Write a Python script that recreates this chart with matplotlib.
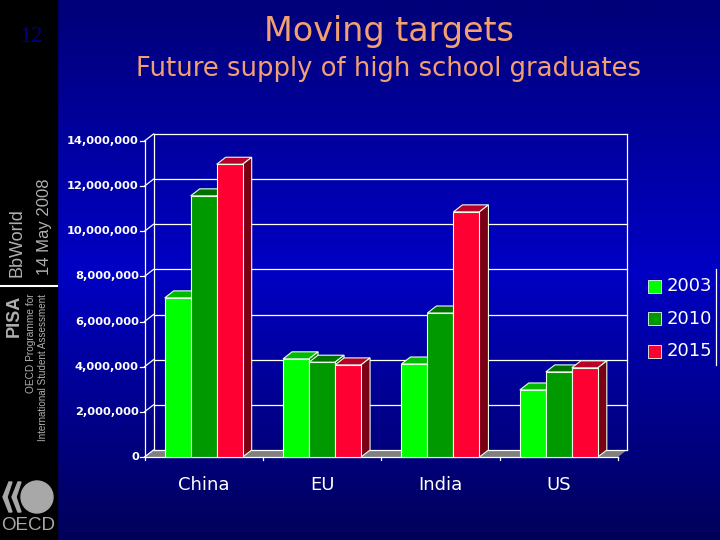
import numpy as np
import matplotlib
matplotlib.use("Agg")
import matplotlib.pyplot as plt
from matplotlib.colors import LinearSegmentedColormap
from matplotlib.patches import Polygon, Circle, Rectangle

categories = ["China", "EU", "India", "US"]
years = ["2003", "2010", "2015"]
v2003 = [7050000, 4350000, 4120000, 2970000]
v2010 = [11570000, 4200000, 6380000, 3770000]
v2015 = [12970000, 4080000, 10860000, 3950000]
series = [v2003, v2010, v2015]
front = ["#00FF00", "#009900", "#FF0033"]
top = ["#00BB00", "#007000", "#B80028"]
side = ["#008800", "#005000", "#7A0014"]
yticks = list(range(0, 14000001, 2000000))

W, H = 720, 540
fig = plt.figure(figsize=(W / 100, H / 100), dpi=100)

# background, in pixel coordinates
bg = fig.add_axes([0, 0, 1, 1])
bg.set_xlim(0, W); bg.set_ylim(H, 0); bg.axis("off")
cmap = LinearSegmentedColormap.from_list("b", [(0, "#000078"), (0.5, "#0000C4"), (1, "#00005A")])
bg.imshow(np.linspace(0, 1, 256).reshape(-1, 1), cmap=cmap, aspect="auto", extent=(0, W, H, 0))
bg.add_patch(Rectangle((0, 0), 57, H, color="black"))
bg.plot([0, 57], [286, 286], color="white", lw=1.5)
bg.text(32, 37, "12", color="#000080", fontsize=17, family="Liberation Serif", ha="center", va="center")
bg.text(389, 31, "Moving targets", color="#F2A070", fontsize=24, family="DejaVu Sans", ha="center", va="center")
bg.text(389, 69, "Future supply of high school graduates", color="#F2A070", fontsize=18.6, family="DejaVu Sans", ha="center", va="center")
grey = "#B0B0B0"
bg.text(17, 243, "BbWorld", color=grey, fontsize=13, family="Liberation Sans", rotation=90, ha="center", va="center")
bg.text(44, 227, "14 May 2008", color=grey, fontsize=12, family="Liberation Sans", rotation=90, ha="center", va="center")
bg.text(14, 316, "PISA", color=grey, fontsize=13, family="Liberation Sans", weight="bold", rotation=90, ha="center", va="center")
bg.text(31, 343, "OECD Programme for", color=grey, fontsize=7.3, family="Liberation Sans", rotation=90, ha="center", va="center")
bg.text(43, 368, "International Student Assessment", color=grey, fontsize=7.1, family="Liberation Sans", rotation=90, ha="center", va="center")
bg.add_patch(Circle((37, 497), 16, color="#A8A8A8"))
for xc in (3, 12):
    bg.add_patch(Polygon([(xc + 6, 482), (xc + 9, 482), (xc + 4, 497), (xc + 9, 512), (xc + 6, 512), (xc, 497)], color="#A8A8A8"))
bg.text(28, 525, "OECD", color="#A8A8A8", fontsize=13.5, family="Liberation Sans", ha="center", va="center")

# chart
x0, x1, y0, y1 = 144.5, 618.0, 457.0, 141.0
ax = fig.add_axes([x0 / W, 1 - y0 / H, (x1 - x0) / W, (y0 - y1) / H])
ax.patch.set_alpha(0)
ax.set_xlim(0, 4)
ax.set_ylim(0, 14000000)
for s in ax.spines.values():
    s.set_visible(False)
ax.set_xticks([])
ax.set_yticks([])
dx = 9 / ((x1 - x0) / 4)
dy = 7 / ((y0 - y1) / 14000000)
white = dict(color="white", lw=0.9, clip_on=False)
# floor, walls, gridlines
ax.add_patch(Polygon([(0, 0), (4, 0), (4 + dx, dy), (dx, dy)], facecolor="#808080", edgecolor="none", clip_on=False))
ax.plot([dx, dx], [dy, 14000000 + dy], **white)
ax.plot([4 + dx, 4 + dx], [dy, 14000000 + dy], **white)
tw = 5 / ((x1 - x0) / 4)
for t in yticks:
    ax.plot([dx, 4 + dx], [t + dy, t + dy], **white)
    ax.plot([0, dx], [t, t + dy], **white)
    ax.plot([-tw, 0], [t, t], **white)
    ax.text(-tw - 0.005, t, f"{t:,}", color="white", fontsize=8.2, weight="bold", ha="right", va="center", clip_on=False)
ax.plot([0, 0], [0, 14000000], **white)
ax.plot([0, 4], [0, 0], **white)
for i in range(5):
    ax.plot([i, i], [0, -130000], **white)

bw = 26 / ((x1 - x0) / 4)
for c, cat in enumerate(categories):
    for k in range(3):
        v = series[k][c]
        l = c + 0.5 + (k - 1.5) * bw
        r = l + bw
        ec = dict(edgecolor="#E8FFE8", lw=0.8, clip_on=False, joinstyle="miter")
        ax.add_patch(Polygon([(l, v), (l + dx, v + dy), (r + dx, v + dy), (r, v)], facecolor=top[k], zorder=3 + k, **ec))
        ax.add_patch(Polygon([(r, 0), (r + dx, dy), (r + dx, v + dy), (r, v)], facecolor=side[k], zorder=3 + k, **ec))
        ax.bar(l, v, width=bw, align="edge", color=front[k], edgecolor="#E8FFE8", lw=0.8, zorder=3.5 + k, clip_on=False)
    ax.text(c + 0.5, -1250000, cat, color="white", fontsize=13, ha="center", va="center", clip_on=False)

# legend
for k, y in enumerate(years):
    py = 286 + k * 32.5
    bg.add_patch(Rectangle((648, py - 6.5), 13, 13, facecolor=front[k], edgecolor="#E8FFE8", lw=0.6))
    bg.text(667, py, y, color="white", fontsize=13, ha="left", va="center")
bg.plot([716, 716], [269, 365], color="white", lw=0.9)

fig.savefig("out.png", dpi=100)
